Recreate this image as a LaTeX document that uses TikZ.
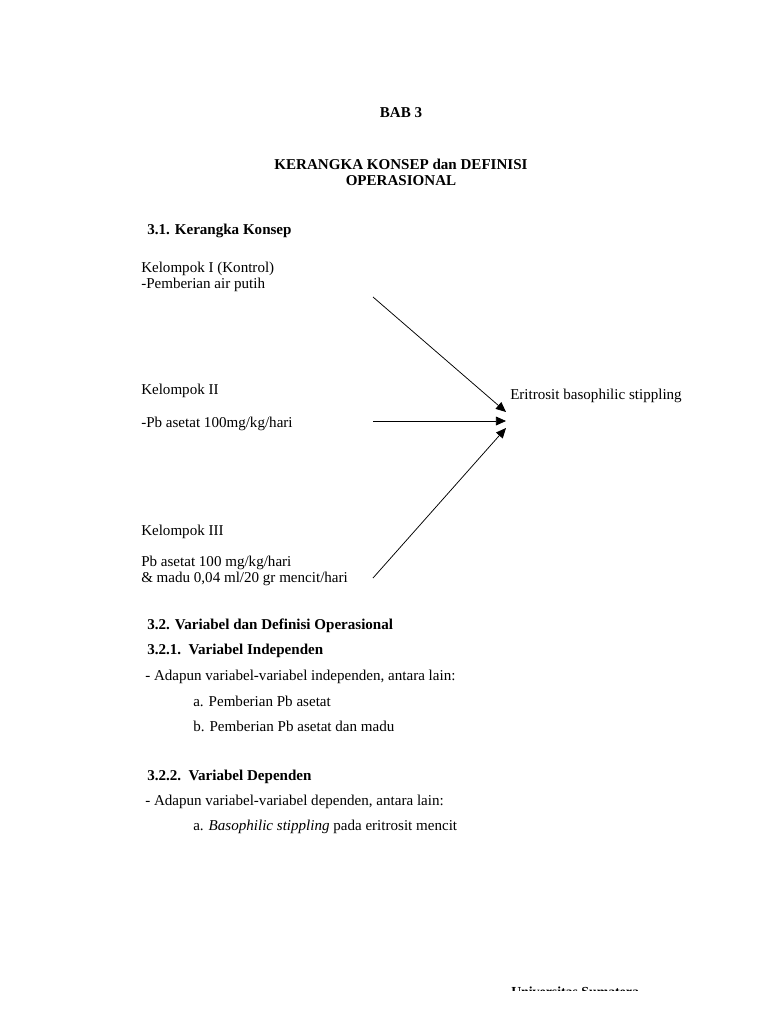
\documentclass[tikz,border=0pt]{standalone}
\usepackage{fontspec}
\setmainfont{Liberation Serif}
\usetikzlibrary{arrows.meta, positioning}

\begin{document}
\begin{tikzpicture}[
    x=0.797pt, y=-0.797pt,
    txt/.style={anchor=west, inner sep=0pt, font=\fontsize{12}{14}\selectfont, align=left},
    head/.style={txt, font=\fontsize{12}{14}\selectfont\bfseries},
    title/.style={inner sep=0pt, font=\fontsize{12}{14}\selectfont\bfseries, align=center},
    arr/.style={-{Triangle[length=8pt, width=7pt]}, line width=0.6pt}
]
    \useasboundingbox[fill=white] (0,0) rectangle (768,1024);

    % Title
    \node[title] (bab) at (401, 113) {BAB 3};
    \node[title] (judul) at (401, 172)
        {KERANGKA KONSEP dan DEFINISI\\[-1pt]OPERASIONAL};

    % 3.1 Kerangka Konsep
    \node[head] (sub31) at (147, 231) {3.1. Kerangka Konsep};

    \node[txt] (k1a) at (141, 269) {Kelompok I (Kontrol)};
    \node[txt] (k1b) at (141, 285) {-Pemberian air putih};

    \node[txt] (k2a) at (141, 391) {Kelompok II};
    \node[txt] (k2b) at (141, 424) {-Pb asetat 100mg/kg/hari};

    \node[txt] (k3a) at (141, 532) {Kelompok III};
    \node[txt] (k3b) at (141, 563) {Pb asetat 100 mg/kg/hari};
    \node[txt] (k3c) at (141, 579) {\& madu 0,04 ml/20 gr mencit/hari};

    \node[txt] (eri) at (510, 396) {Eritrosit basophilic stippling};

    % Arrows to Eritrosit
    \coordinate (s1) at (373, 297);
    \coordinate (s2) at (373, 421);
    \coordinate (s3) at (373, 578);
    \coordinate (t1) at (506, 412);
    \coordinate (t2) at (506, 421);
    \coordinate (t3) at (506, 428);
    \draw[arr] (s1) -- (t1);
    \draw[arr] (s2) -- (t2);
    \draw[arr] (s3) -- (t3);

    % 3.2 Variabel
    \node[head] (sub32) at (147, 626) {3.2. Variabel dan Definisi Operasional};
    \node[head] (sub321) at (147, 651) {3.2.1.\ \ Variabel Independen};
    \node[txt] (ind) at (145, 677) {- Adapun variabel-variabel independen, antara lain:};
    \node[txt] (inda) at (193, 701) {a. Pemberian Pb asetat};
    \node[txt] (indb) at (193, 726) {b. Pemberian Pb asetat dan madu};

    \node[head] (sub322) at (147, 777) {3.2.2.\ \ Variabel Dependen};
    \node[txt] (dep) at (145, 802) {- Adapun variabel-variabel dependen, antara lain:};
    \node[txt] (depa) at (193, 827) {a. \textit{Basophilic stippling} pada eritrosit mencit};

    % Footer (cut off)
    \begin{scope}
        \clip (0,0) rectangle (768,990);
        \node[txt, font=\fontsize{11}{13}\selectfont\bfseries] (univ) at (511, 992) {Universitas Sumatera};
    \end{scope}
\end{tikzpicture}
\end{document}
